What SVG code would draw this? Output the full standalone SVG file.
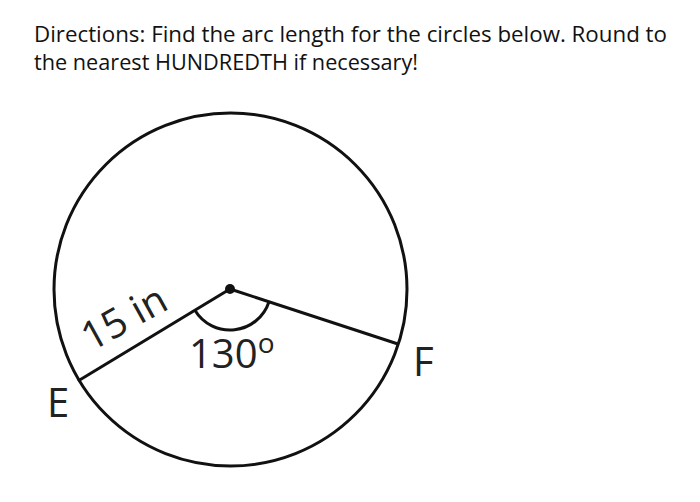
<svg xmlns="http://www.w3.org/2000/svg" width="700" height="502" viewBox="0 0 700 502">
<style>
.t{font-family:"Open Sans","DejaVu Sans",sans-serif;fill:#111;}
.title{font-size:21px;}
.lbl{font-size:40px;fill:#222;}
.ln{fill:none;stroke:#111;stroke-width:3;}
</style>
<rect width="700" height="502" fill="#fff"/>
<g id="title">
<text class="t title" x="34" y="42" textLength="633" lengthAdjust="spacingAndGlyphs">Directions: Find the arc length for the circles below. Round to</text>
<text class="t title" x="34" y="70" textLength="384" lengthAdjust="spacingAndGlyphs">the nearest HUNDREDTH if necessary!</text>
</g>
<g id="circle">
<circle class="ln" cx="230.5" cy="289.5" r="176.5"/>
</g>
<g id="connectors">
<line class="ln" x1="230" y1="289" x2="78" y2="381"/>
<line class="ln" x1="230" y1="289" x2="398" y2="344"/>
<path class="ln" d="M194.9,310.2 A41,41 0 0 0 269,301.7"/>
</g>
<g id="center">
<circle cx="230" cy="289" r="5" fill="#111"/>
</g>
<g id="label-E"><text class="t lbl" x="47" y="417" font-size="42">E</text></g>
<g id="label-F"><text class="t lbl" x="413" y="376" font-size="42">F</text></g>
<g id="label-angle"><text class="t lbl" x="189" y="368" font-size="42">130<tspan font-size="28" dy="-15">o</tspan></text></g>
<g id="label-radius"><text class="t lbl" x="91" y="352" font-size="39" transform="rotate(-29 91 352)">15 in</text></g>
</svg>
